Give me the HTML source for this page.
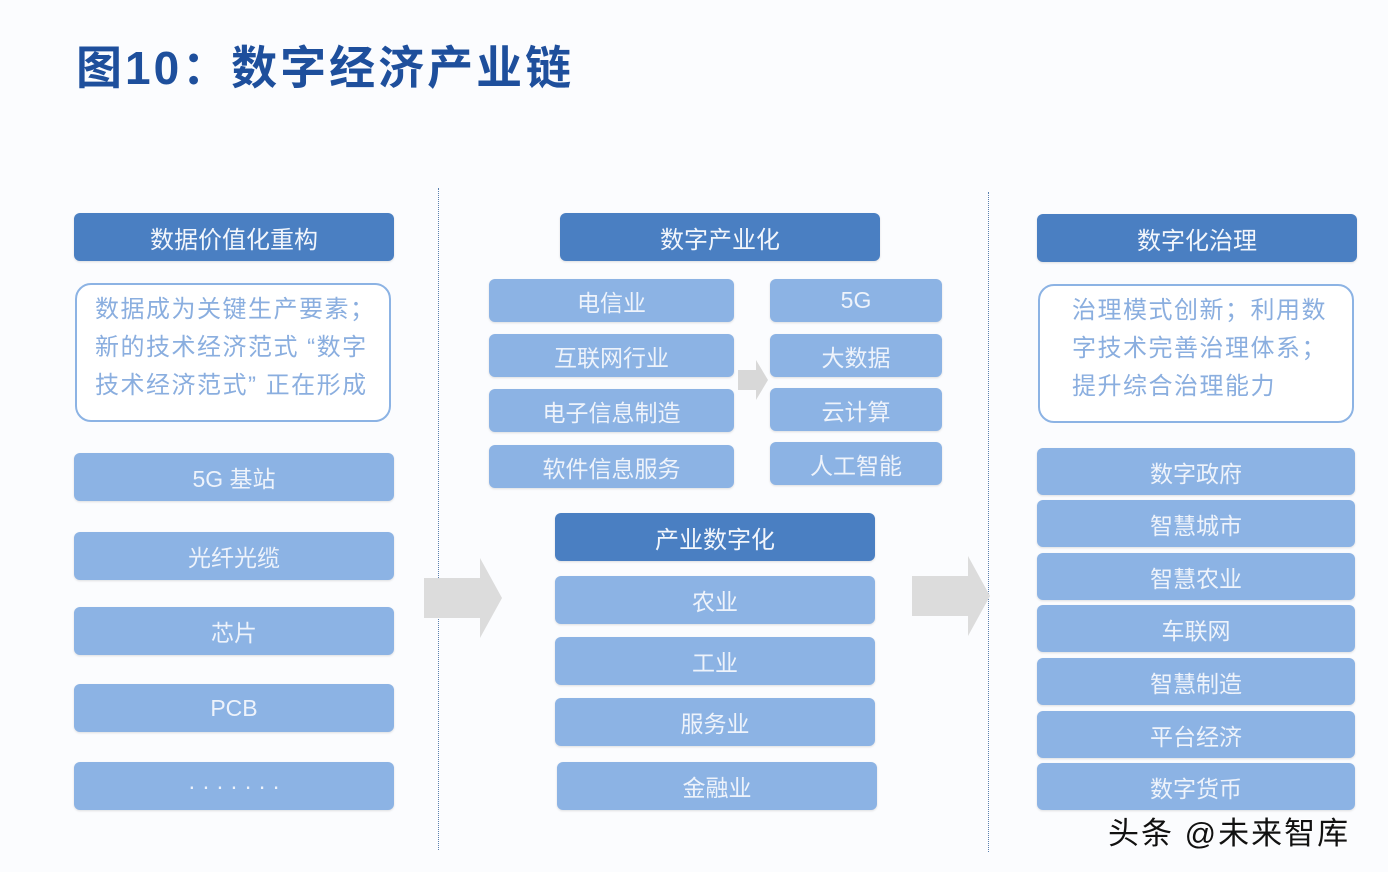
<!DOCTYPE html>
<html><head><meta charset="utf-8"><style>
body{margin:0;width:1388px;height:872px;background:#fbfcfe;position:relative;overflow:hidden;font-family:"Liberation Sans","Noto Sans CJK SC",sans-serif}
.b{position:absolute;border-radius:6px;background:#8cb3e4;color:#eef3fb;display:flex;align-items:center;justify-content:center;font-size:23px;box-shadow:0 1px 2px rgba(0,0,0,.12)}
.h{background:#4a7fc2;color:#f2f6fc;font-size:24px}
.t{position:absolute;border:2px solid #8cb3e4;border-radius:16px;background:#fff;color:#8aaedf;font-size:24px;line-height:38px;padding:6px 0 0 18px;box-sizing:border-box;letter-spacing:1.5px;white-space:nowrap}
.v{position:absolute;border-left:1.5px dotted #5a7fae;width:0}
</style></head><body>
<div style="position:absolute;left:76px;top:32px;font-size:46px;font-weight:bold;color:#1e4f9c;letter-spacing:3px">图10：数字经济产业链</div>
<div class="v" style="left:438px;top:188px;height:662px"></div>
<div class="v" style="left:988px;top:192px;height:660px"></div>

<div class="b h" style="left:74px;top:213px;width:320px;height:48px">数据价值化重构</div>
<div class="t" style="left:75px;top:283px;width:316px;height:139px">数据成为关键生产要素；<br>新的技术经济范式 “数字<br>技术经济范式” 正在形成</div>
<div class="b" style="left:74px;top:453px;width:320px;height:48px">5G 基站</div>
<div class="b" style="left:74px;top:532px;width:320px;height:48px">光纤光缆</div>
<div class="b" style="left:74px;top:607px;width:320px;height:48px">芯片</div>
<div class="b" style="left:74px;top:684px;width:320px;height:48px">PCB</div>
<div class="b" style="left:74px;top:762px;width:320px;height:48px">· · · · · · ·</div>

<svg style="position:absolute;left:424px;top:558px" width="80" height="82"><polygon points="0,20 56,20 56,0 78,40 56,80 56,60 0,60" fill="#dcdcdc"/></svg>
<svg style="position:absolute;left:912px;top:556px" width="80" height="82"><polygon points="0,20 56,20 56,0 78,40 56,80 56,60 0,60" fill="#dcdcdc"/></svg>
<svg style="position:absolute;left:738px;top:360px" width="32" height="46"><polygon points="0,10 18,10 18,0 30,20 18,40 18,30 0,30" fill="#d8d8d8"/></svg>

<div class="b h" style="left:560px;top:213px;width:320px;height:48px">数字产业化</div>
<div class="b" style="left:489px;top:279px;width:245px;height:43px">电信业</div>
<div class="b" style="left:489px;top:334px;width:245px;height:43px">互联网行业</div>
<div class="b" style="left:489px;top:389px;width:245px;height:43px">电子信息制造</div>
<div class="b" style="left:489px;top:445px;width:245px;height:43px">软件信息服务</div>
<div class="b" style="left:770px;top:279px;width:172px;height:43px">5G</div>
<div class="b" style="left:770px;top:334px;width:172px;height:43px">大数据</div>
<div class="b" style="left:770px;top:388px;width:172px;height:43px">云计算</div>
<div class="b" style="left:770px;top:442px;width:172px;height:43px">人工智能</div>
<div class="b h" style="left:555px;top:513px;width:320px;height:48px">产业数字化</div>
<div class="b" style="left:555px;top:576px;width:320px;height:48px">农业</div>
<div class="b" style="left:555px;top:637px;width:320px;height:48px">工业</div>
<div class="b" style="left:555px;top:698px;width:320px;height:48px">服务业</div>
<div class="b" style="left:557px;top:762px;width:320px;height:48px">金融业</div>

<div class="b h" style="left:1037px;top:214px;width:320px;height:48px">数字化治理</div>
<div class="t" style="left:1038px;top:284px;width:316px;height:139px;padding-left:32px">治理模式创新；利用数<br>字技术完善治理体系；<br>提升综合治理能力</div>
<div class="b" style="left:1037px;top:448px;width:318px;height:47px">数字政府</div>
<div class="b" style="left:1037px;top:500px;width:318px;height:47px">智慧城市</div>
<div class="b" style="left:1037px;top:553px;width:318px;height:47px">智慧农业</div>
<div class="b" style="left:1037px;top:605px;width:318px;height:47px">车联网</div>
<div class="b" style="left:1037px;top:658px;width:318px;height:47px">智慧制造</div>
<div class="b" style="left:1037px;top:711px;width:318px;height:47px">平台经济</div>
<div class="b" style="left:1037px;top:763px;width:318px;height:47px">数字货币</div>
<div style="position:absolute;left:1108px;top:808px;font-size:31px;color:#111;letter-spacing:2px;text-shadow:0 0 2px #fff,0 0 2px #fff">头条 @未来智库</div>
</body></html>
